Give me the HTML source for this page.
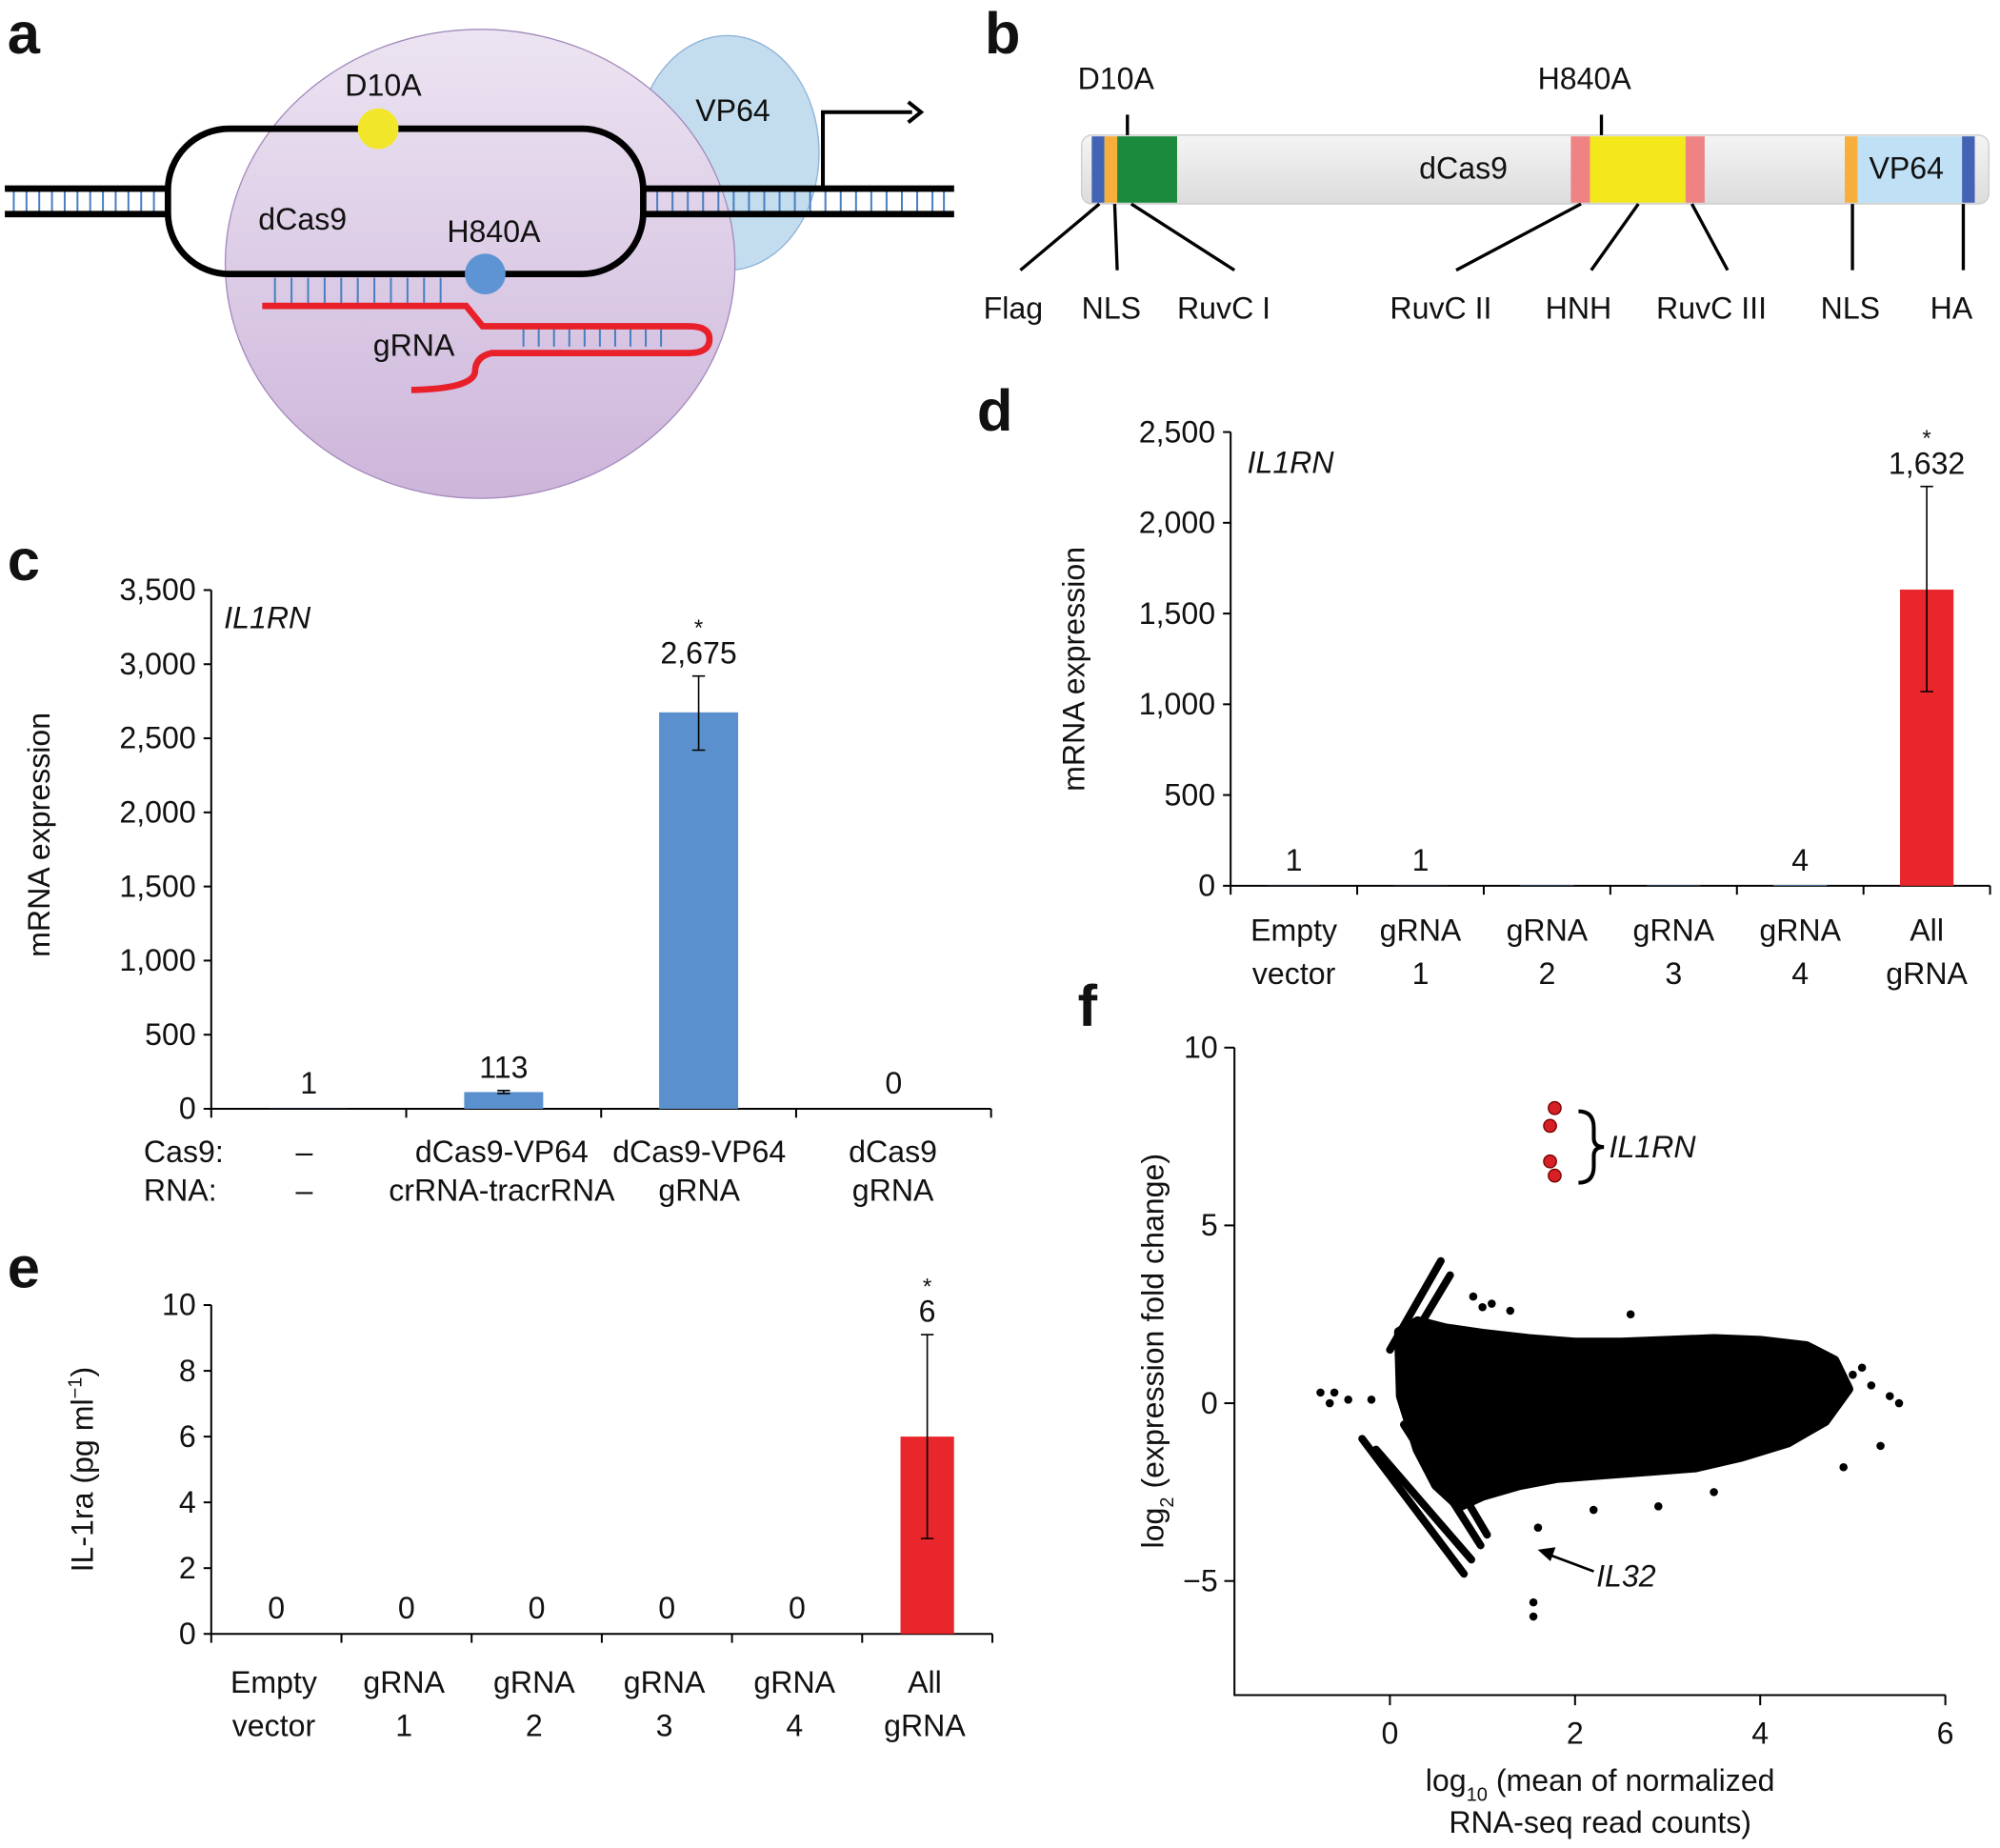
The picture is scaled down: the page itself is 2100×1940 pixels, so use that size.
<!DOCTYPE html>
<html><head><meta charset="utf-8">
<style>
html,body{margin:0;padding:0;background:#fff;}
svg{display:block;font-family:"Liberation Sans",sans-serif;}
.t{font-size:24px;fill:#111;}
.lbl{font-size:46px;font-weight:bold;fill:#111;}
</style></head>
<body>
<svg id="fig" width="2100" height="1940" viewBox="0 0 1568 1450" xmlns="http://www.w3.org/2000/svg">
<defs>
<linearGradient id="gp" x1="0" y1="0" x2="0" y2="1"><stop offset="0" stop-color="#ece4f2"/><stop offset="1" stop-color="#cdb5da"/></linearGradient>
<linearGradient id="gbar" x1="0" y1="0" x2="0" y2="1"><stop offset="0" stop-color="#f4f4f4"/><stop offset="1" stop-color="#dcdcdc"/></linearGradient>
</defs>
<!-- Panel a -->
<g>
<text class="lbl" x="5" y="42">a</text>
<ellipse cx="570" cy="120" rx="72" ry="92" fill="#c3ddef" stroke="#8fb3d8"/>
<ellipse cx="376" cy="207" rx="200" ry="184" fill="url(#gp)" stroke="#a48bbd"/>
<g stroke="#4a7fc0" stroke-width="1.5">
<path d="M10 150V166M20 150V166M30 150V166M40 150V166M50 150V166M60 150V166M70 150V166M80 150V166M90 150V166M100 150V166M110 150V166M120 150V166M130 150V166"/>
<path d="M515 150V166M527 150V166M539 150V166M551 150V166M563 150V166M575 150V166M587 150V166M599 150V166M611 150V166M623 150V166M635 150V166M647 150V166M659 150V166M671 150V166M683 150V166M695 150V166M707 150V166M719 150V166M731 150V166M740 150V166"/>
<path d="M215 218V238M228 218V238M241 218V238M254 218V238M267 218V238M280 218V238M293 218V238M306 218V238M319 218V238M332 218V238M345 218V238"/>
<path d="M410 258V272M422 258V272M434 258V272M446 258V272M458 258V272M470 258V272M482 258V272M494 258V272M506 258V272M518 258V272"/>
</g>
<g fill="none" stroke="#000" stroke-width="5">
<path d="M3 148H132M3 168H132M503 148H748M503 168H748"/>
<rect x="131" y="101" width="373" height="114" rx="48"/>
<path d="M645 148V88H715" stroke-width="3"/>
</g>
<path d="M712 80L722 88L712 96" fill="none" stroke="#000" stroke-width="3"/>
<path d="M205 240H365 L378 256 H540 Q556 256 556 266 Q556 277 540 277 H385 Q372 280 372 292 Q370 305 322 306" fill="none" stroke="#e8202a" stroke-width="5"/>
<circle cx="296" cy="101" r="16" fill="#f2e62a"/>
<circle cx="380" cy="215" r="16" fill="#5f94d4"/>
<text class="t" x="270" y="75">D10A</text>
<text class="t" x="545" y="95">VP64</text>
<text class="t" x="202" y="180">dCas9</text>
<text class="t" x="350" y="190">H840A</text>
<text class="t" x="292" y="279">gRNA</text>
</g>
<!-- Panel b -->
<g>
<text class="lbl" x="772" y="42">b</text>
<rect x="848" y="106" width="712" height="54" rx="8" fill="url(#gbar)" stroke="#ccc"/>
<rect x="856" y="107" width="10" height="52" fill="#4363b5"/>
<rect x="866" y="107" width="10" height="52" fill="#f7ae3a"/>
<rect x="876" y="107" width="47" height="52" fill="#1b8a3c"/>
<rect x="1232" y="107" width="15" height="52" fill="#ef8282"/>
<rect x="1247" y="107" width="75" height="52" fill="#f2e81c"/>
<rect x="1322" y="107" width="15" height="52" fill="#ef8282"/>
<rect x="1447" y="107" width="10" height="52" fill="#f7ae3a"/>
<rect x="1457" y="107" width="82" height="52" fill="#bfe0f5"/>
<rect x="1539" y="107" width="10" height="52" fill="#4363b5"/>
<g stroke="#000" stroke-width="2.5" fill="none">
<path d="M884 90V106M1256 90V106"/>
<path d="M862 160L800 212M874 160L876 212M887 160L968 212M1240 160L1142 212M1285 160L1248 212M1327 160L1355 212M1453 160L1453 212M1540 160L1540 212"/>
</g>
<text class="t" x="845" y="70">D10A</text><text class="t" x="1206" y="70">H840A</text>
<text class="t" x="1113" y="140">dCas9</text><text class="t" x="1466" y="140">VP64</text>
<text class="t" x="771" y="250">Flag</text><text class="t" x="848" y="250">NLS</text><text class="t" x="923" y="250">RuvC I</text>
<text class="t" x="1090" y="250">RuvC II</text><text class="t" x="1212" y="250">HNH</text><text class="t" x="1299" y="250">RuvC III</text>
<text class="t" x="1428" y="250">NLS</text><text class="t" x="1514" y="250">HA</text>
</g>
<text class="lbl" x="5" y="455">c</text>
<text class="lbl" x="766" y="338">d</text>
<text class="lbl" x="5" y="1010">e</text>
<text class="lbl" x="845" y="805">f</text>
<g id="charts"></g>
</svg>
<script>
const NS="http://www.w3.org/2000/svg";
const root=document.getElementById('charts');
function mk(tag,attrs,parent,txt){const e=document.createElementNS(NS,tag);for(const k in attrs)e.setAttribute(k,attrs[k]);if(txt!==undefined)e.textContent=txt;(parent||root).appendChild(e);return e;}

// ---- Panel c data ----
const cCats=["1","2","3","4"];
const cValues=[1,113,2675,0];
const cErrLo=[1,103,2420,0];
const cErrHi=[1,123,2920,0];
const cLabels=["1","113","2,675","0"];
const cStar=[false,false,true,false];
const cTicks=[0,500,1000,1500,2000,2500,3000,3500];
const cCas9=["–","dCas9-VP64","dCas9-VP64","dCas9"];
const cRNA=["–","crRNA-tracrRNA","gRNA","gRNA"];
// ---- Panel d data ----
const dCats=[["Empty","vector"],["gRNA","1"],["gRNA","2"],["gRNA","3"],["gRNA","4"],["All","gRNA"]];
const dValues=[1,1,2,2,4,1632];
const dErrLo=[1,1,2,2,4,1070];
const dErrHi=[1,1,2,2,4,2200];
const dLabels=["1","1","","","4","1,632"];
const dStar=[false,false,false,false,false,true];
const dTicks=[0,500,1000,1500,2000,2500];
// ---- Panel e data ----
const eCats=[["Empty","vector"],["gRNA","1"],["gRNA","2"],["gRNA","3"],["gRNA","4"],["All","gRNA"]];
const eValues=[0,0,0,0,0,6];
const eErrLo=[0,0,0,0,0,2.9];
const eErrHi=[0,0,0,0,0,9.1];
const eLabels=["0","0","0","0","0","6"];
const eStar=[false,false,false,false,false,true];
const eTicks=[0,2,4,6,8,10];
// ---- Panel f data ----
const fXTicks=[0,2,4,6];
const fYTicks=[10,5,0,-5];
const fBlobX=[0.1,0.3,0.6,1.0,1.5,2.0,2.5,3.0,3.5,4.0,4.5,4.8,4.95,4.7,4.3,3.8,3.3,2.8,2.3,1.8,1.4,1.0,0.75,0.5,0.3,0.12];
const fBlobY=[2.0,2.3,2.1,1.95,1.8,1.7,1.7,1.75,1.8,1.75,1.6,1.2,0.4,-0.5,-1.1,-1.5,-1.8,-1.9,-2.0,-2.1,-2.3,-2.6,-2.9,-2.3,-1.3,0.2];
const fArmX=[[0.0,0.55],[0.12,0.65],[-0.3,0.8],[-0.15,0.88],[0.15,0.98],[0.3,1.05]];
const fArmY=[[1.5,4.0],[1.3,3.6],[-1.0,-4.8],[-1.3,-4.4],[-0.6,-4.0],[-0.4,-3.7]];
const fOutX=[-0.75,-0.6,-0.45,-0.65,-0.2,1.1,1.3,1.6,2.9,4.65,5.0,5.2,5.5,5.3,5.4,1.55,1.55,1.7,2.2,3.5,4.9,5.1,0.9,1.0,2.6];
const fOutY=[0.3,0.3,0.1,0.0,0.1,2.8,2.6,-3.5,-2.9,-0.2,0.8,0.5,0.0,-1.2,0.2,-5.6,-6.0,-4.2,-3.0,-2.5,-1.8,1.0,3.0,2.7,2.5];
const fHitX=[1.78,1.73,1.73,1.78];
const fHitY=[8.3,7.8,6.8,6.4];

function barChart(o){
  const g=mk('g',{});
  
  
  const y=v=>o.y0-(v-o.ticks[0])/(o.ticks[o.ticks.length-1]-o.ticks[0])*(o.y0-o.yTop);
  const n=o.values.length, step=(o.x1-o.x0)/n;
  const cx=i=>o.x0+step*(i+0.5);
  mk('path',{d:`M${o.x0} ${o.yTop}V${o.y0}H${o.x1}`,stroke:'#000','stroke-width':1.5,fill:'none'},g);
  o.ticks.forEach(t=>{
    mk('path',{d:`M${o.x0-6} ${y(t)}H${o.x0}`,stroke:'#000','stroke-width':1.5},g);
    const tl=mk('text',{x:o.x0-12,y:y(t)+8,'text-anchor':'end',class:'t'},g,o.tickFmt(t));
    
    
  });
  for(let i=0;i<=n;i++) mk('path',{d:`M${o.x0+step*i} ${o.y0}V${o.y0+7}`,stroke:'#000','stroke-width':1.5},g);
  o.values.forEach((v,i)=>{
    const r=mk('rect',{x:cx(i)-o.bw/2,y:y(v),width:o.bw,height:Math.max(0,o.y0-y(v)),fill:o.colors[i]},g);
    
    
    if(o.errHi[i]-o.errLo[i]>0.001){
      mk('path',{d:`M${cx(i)} ${y(o.errHi[i])}V${y(o.errLo[i])}M${cx(i)-5} ${y(o.errHi[i])}H${cx(i)+5}M${cx(i)-5} ${y(o.errLo[i])}H${cx(i)+5}`,stroke:'#000','stroke-width':1.2,fill:'none'},g);
    }
    const top=Math.min(y(o.errHi[i]),y(v));
    if(o.labels[i]){
      const lt=mk('text',{x:cx(i),y:Math.min(top-10,o.y0-12),'text-anchor':'middle',class:'t'},g,o.labels[i]);
      
      
    }
    if(o.star[i]) mk('text',{x:cx(i),y:Math.min(top-10,o.y0-12)-22,'text-anchor':'middle',class:'t',style:'font-size:18px'},g,'*');
  });
  return {g,cx,y};
}
const fmt=t=>t.toLocaleString('en-US');
const blue='#5b90cf', red='#e8262b';

// Panel c
const C=barChart({name:'chart-c-il1rn-mrna',x0:165,x1:777,y0:870,yTop:463,ticks:cTicks,values:cValues,errLo:cErrLo,errHi:cErrHi,labels:cLabels,star:cStar,bw:62,colors:cValues.map(()=>blue),tickFmt:fmt});
mk('text',{x:175,y:493,class:'t','font-style':'italic'},C.g,'IL1RN');
const cyt=mk('text',{x:38,y:655,class:'t','text-anchor':'middle',transform:'rotate(-90 38 655)'},C.g,'mRNA expression');


mk('text',{x:112,y:912,class:'t'},C.g,'Cas9:');
mk('text',{x:112,y:942,class:'t'},C.g,'RNA:');
cCats.forEach((c,i)=>{
  const xx=[238,393,548,700][i];
  mk('text',{x:xx,y:912,class:'t','text-anchor':'middle'},C.g,cCas9[i]);
  mk('text',{x:xx,y:942,class:'t','text-anchor':'middle'},C.g,cRNA[i]);
});

// Panel d
const D=barChart({name:'chart-d-il1rn-mrna',x0:965,x1:1561,y0:695,yTop:339,ticks:dTicks,values:dValues,errLo:dErrLo,errHi:dErrHi,labels:dLabels,star:dStar,bw:42,colors:dValues.map((v,i)=>i===5?red:blue),tickFmt:fmt});
mk('text',{x:978,y:371,class:'t','font-style':'italic'},D.g,'IL1RN');
mk('text',{x:850,y:525,class:'t','text-anchor':'middle',transform:'rotate(-90 850 525)'},D.g,'mRNA expression');
dCats.forEach((c,i)=>{
  mk('text',{x:D.cx(i),y:738,class:'t','text-anchor':'middle'},D.g,c[0]);
  mk('text',{x:D.cx(i),y:772,class:'t','text-anchor':'middle'},D.g,c[1]);
});

// Panel e
const E=barChart({name:'chart-e-il1ra-protein',x0:165,x1:778,y0:1282,yTop:1024,ticks:eTicks,values:eValues,errLo:eErrLo,errHi:eErrHi,labels:eLabels,star:eStar,bw:42,colors:eValues.map((v,i)=>i===5?red:blue),tickFmt:fmt});
const ey=mk('text',{x:72,y:1153,class:'t','text-anchor':'middle',transform:'rotate(-90 72 1153)'},E.g);
ey.innerHTML='IL-1ra (pg ml<tspan dy="-9" style="font-size:15px">−1</tspan><tspan dy="9">)</tspan>';
eCats.forEach((c,i)=>{
  mk('text',{x:E.cx(i)-2,y:1328,class:'t','text-anchor':'middle'},E.g,c[0]);
  mk('text',{x:E.cx(i)-2,y:1362,class:'t','text-anchor':'middle'},E.g,c[1]);
});

// Panel f
(function(){
  const g=mk('g',{});
  
  
  const X=v=>1090+v*72.65, Y=v=>1101-v*27.9;
  mk('path',{d:'M968 822V1330H1526',stroke:'#000','stroke-width':1.5,fill:'none'},g);
  fYTicks.forEach(t=>{mk('path',{d:`M960 ${Y(t)}H968`,stroke:'#000','stroke-width':1.5},g);
    mk('text',{x:955,y:Y(t)+8,'text-anchor':'end',class:'t'},g,t<0?'−'+(-t):String(t));});
  fXTicks.forEach(t=>{mk('path',{d:`M${X(t)} 1330V1338`,stroke:'#000','stroke-width':1.5},g);
    mk('text',{x:X(t),y:1368,'text-anchor':'middle',class:'t'},g,String(t));});
  const blob=mk('polygon',{points:fBlobX.map((x,i)=>X(x)+','+Y(fBlobY[i])).join(' '),fill:'#000',stroke:'#000','stroke-width':8,'stroke-linejoin':'round'},g);
  
  
  fArmX.forEach((a,i)=>{mk('line',{x1:X(a[0]),y1:Y(fArmY[i][0]),x2:X(a[1]),y2:Y(fArmY[i][1]),stroke:'#000','stroke-width':6,'stroke-linecap':'round'},g);});
  fOutX.forEach((x,i)=>{const p=mk('circle',{cx:X(x),cy:Y(fOutY[i]),r:3.2,fill:'#000'},g);
    
    });
  fHitX.forEach((x,i)=>{const p=mk('circle',{cx:X(x),cy:Y(fHitY[i]),r:5,fill:'#d62025',stroke:'#700','stroke-width':1},g);
    
    });
  mk('path',{d:'M1238 872 Q1250 872 1250 885 V893 Q1250 900 1258 900 Q1250 900 1250 907 V915 Q1250 928 1238 928',fill:'none',stroke:'#000','stroke-width':3},g);
  mk('text',{x:1262,y:908,class:'t','font-style':'italic'},g,'IL1RN');
  mk('path',{d:'M1250 1233L1210 1218',stroke:'#000','stroke-width':2},g);
  mk('path',{d:'M1206 1216L1220 1214L1216 1225Z',fill:'#000'},g);
  mk('text',{x:1252,y:1245,class:'t','font-style':'italic'},g,'IL32');
  const yt=mk('text',{x:912,y:1060,class:'t','text-anchor':'middle',transform:'rotate(-90 912 1060)'},g);
  yt.innerHTML='log<tspan dy="8" style="font-size:15px">2</tspan><tspan dy="-8"> (expression fold change)</tspan>';
  const xt=mk('text',{x:1255,y:1405,class:'t','text-anchor':'middle'},g);
  xt.innerHTML='log<tspan dy="8" style="font-size:15px">10</tspan><tspan dy="-8"> (mean of normalized</tspan>';
  mk('text',{x:1255,y:1438,class:'t','text-anchor':'middle'},g,'RNA-seq read counts)');
})();
</script>
</body></html>
